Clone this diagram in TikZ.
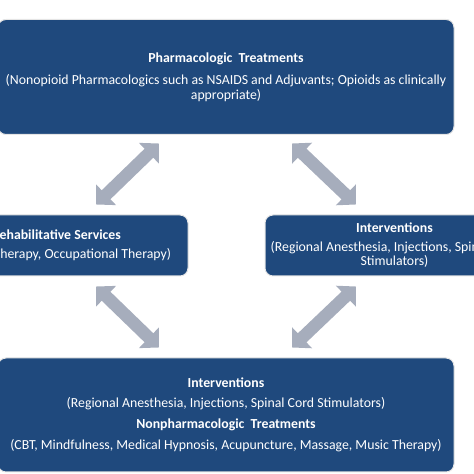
\documentclass[tikz,border=0pt]{standalone}
\usepackage{fontspec}
\setmainfont{Carlito}
\usetikzlibrary{arrows.meta,calc}
\definecolor{boxblue}{RGB}{31,73,125}
\definecolor{arrowgray}{RGB}{166,173,188}

\begin{document}
\begin{tikzpicture}[x=1pt,y=1pt,
    box/.style={rounded corners=8pt, fill=boxblue, draw=black!10, line width=1pt,
        text=white, align=center, inner sep=0pt,
        font=\fontsize{13.8}{14.5}\selectfont},
    link/.style={draw=arrowgray, line width=12.5pt,
        {Triangle[width=28pt,length=14pt]}-{Triangle[width=28pt,length=14pt]}}]
    \useasboundingbox (0,0) rectangle (474,474);
    \clip (0,0) rectangle (474,474);

    % Draw boxes
    \node[box, minimum width=456, minimum height=115] (pharm) at (226,397)
        {\textbf{Pharmacologic\ \ Treatments}\\[8pt]
         (Nonopioid Pharmacologics such as NSAIDS and Adjuvants; Opioids as clinically\\
         appropriate)};
    \node[box, minimum width=263, minimum height=61] (rehab) at (56.5,228.5)
        {\textbf{Rehabilitative Services}\\[5pt]
         (Physical Therapy, Occupational Therapy)};
    \node[box, minimum width=259, minimum height=61] (interv) at (394.5,228.5)
        {\textbf{Interventions}\\[4pt]
         (Regional Anesthesia, Injections, Spinal Cord\\
         Stimulators)};
    \node[box, minimum width=456, minimum height=114] (nonpharm) at (226,59)
        {\textbf{Interventions}\\[5pt]
         (Regional Anesthesia, Injections, Spinal Cord Stimulators)\\[7pt]
         \textbf{Nonpharmacologic\ \ Treatments}\\[6pt]
         (CBT,\ Mindfulness, Medical Hypnosis, Acupuncture, Massage, Music Therapy)};

    % Arrow ends
    \coordinate (pharm-l) at ($(pharm.south)+(-67,-8.5)$);
    \coordinate (pharm-r) at ($(pharm.south)+(66,-8.5)$);
    \coordinate (rehab-t) at ($(rehab.north)+(39.5,10)$);
    \coordinate (rehab-b) at ($(rehab.south)+(39.5,-10)$);
    \coordinate (interv-t) at ($(interv.north)+(-38.5,10)$);
    \coordinate (interv-b) at ($(interv.south)+(-38.5,-10)$);
    \coordinate (nonpharm-l) at ($(nonpharm.north)+(-67,10)$);
    \coordinate (nonpharm-r) at ($(nonpharm.north)+(66,10)$);

    % Draw arrows
    \draw[link] (pharm-l) -- (rehab-t);
    \draw[link] (pharm-r) -- (interv-t);
    \draw[link] (rehab-b) -- (nonpharm-l);
    \draw[link] (interv-b) -- (nonpharm-r);

\end{tikzpicture}
\end{document}
